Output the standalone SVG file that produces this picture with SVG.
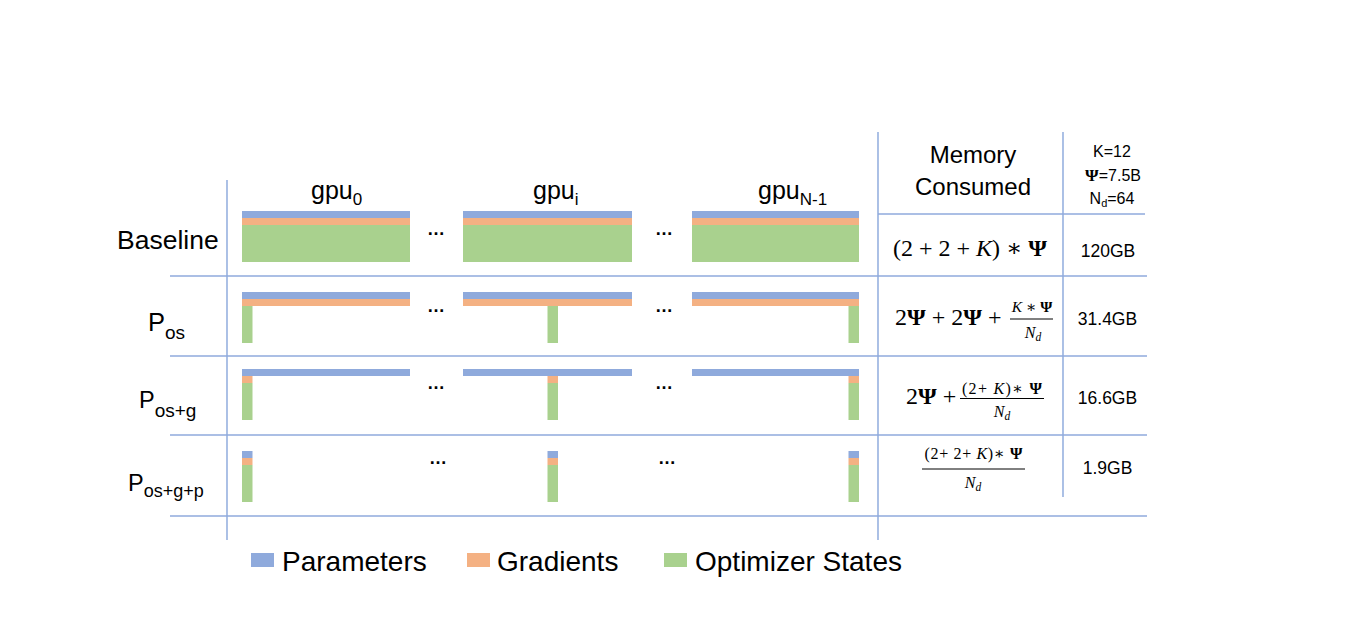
<svg xmlns="http://www.w3.org/2000/svg" width="1353" height="627" viewBox="0 0 1353 627">
<style>
.bg{fill:#ffffff}
.grid{stroke:#8FAADC;stroke-width:1.3;fill:none}
.vgrid{stroke:#7F9FD8;stroke-width:1.3;fill:none}
.p{fill:#8FAADC}
.g{fill:#F4B183}
.o{fill:#A9D18E}
.sans{font-family:"Liberation Sans",Arial,sans-serif;fill:#000}
.math{font-family:"Liberation Serif","DejaVu Serif",serif;fill:#000}
.psi{font-weight:bold}
.it{font-style:italic}
.dots{font-family:"Liberation Sans",Arial,sans-serif;font-size:18px;font-weight:bold;text-anchor:middle;fill:#000}
.frac{stroke:#000;stroke-width:1}
</style>
<rect class="bg" x="0" y="0" width="1353" height="627"/>

<g id="grid">
  <line class="vgrid" x1="227" y1="180" x2="227" y2="540"/>
  <line class="vgrid" x1="878" y1="132" x2="878" y2="540"/>
  <line class="vgrid" x1="1063" y1="132" x2="1063" y2="497"/>
  <line class="grid" x1="878" y1="214" x2="1145" y2="214"/>
  <line class="grid" x1="170" y1="276" x2="1147" y2="276"/>
  <line class="grid" x1="170" y1="356" x2="1147" y2="356"/>
  <line class="grid" x1="170" y1="435" x2="1147" y2="435"/>
  <line class="grid" x1="170" y1="516" x2="1147" y2="516"/>
</g>

<g id="header">
  <text class="sans" x="311" y="199" font-size="25">gpu<tspan font-size="17" dy="6">0</tspan></text>
  <text class="sans" x="533" y="199" font-size="25">gpu<tspan font-size="17" dy="6">i</tspan></text>
  <text class="sans" x="758" y="199" font-size="25">gpu<tspan font-size="17" dy="6">N-1</tspan></text>
  <text class="sans" x="973" y="163" font-size="24" text-anchor="middle">Memory</text>
  <text class="sans" x="973" y="195" font-size="24" text-anchor="middle">Consumed</text>
  <text class="sans" x="1112" y="157" font-size="16" text-anchor="middle">K=12</text>
  <text class="sans" x="1113" y="181" font-size="16" text-anchor="middle"><tspan class="math psi" font-size="17.5">Ψ</tspan>=7.5B</text>
  <text class="sans" x="1112" y="204" font-size="16" text-anchor="middle">N<tspan font-size="11" dy="3">d</tspan><tspan dy="-3">=64</tspan></text>
</g>

<g id="row-baseline">
  <text class="sans" x="117" y="249" font-size="26.5">Baseline</text>
  <rect class="p" x="242" y="211" width="168" height="7"/>
  <rect class="g" x="242" y="218" width="168" height="7"/>
  <rect class="o" x="242" y="225" width="168" height="37"/>
  <rect class="p" x="463" y="211" width="169" height="7"/>
  <rect class="g" x="463" y="218" width="169" height="7"/>
  <rect class="o" x="463" y="225" width="169" height="37"/>
  <rect class="p" x="692" y="211" width="167" height="7"/>
  <rect class="g" x="692" y="218" width="167" height="7"/>
  <rect class="o" x="692" y="225" width="167" height="37"/>
  <text class="dots" x="436" y="235">…</text>
  <text class="dots" x="664" y="235">…</text>
  <text class="math" x="970" y="256" font-size="24" text-anchor="middle">(2 + 2 + <tspan class="it">K</tspan>) ∗ <tspan class="psi">Ψ</tspan></text>
  <text class="sans" x="1108" y="257" font-size="17.5" text-anchor="middle">120GB</text>
</g>

<g id="row-pos">
  <text class="sans" x="148" y="331" font-size="25.5">P<tspan font-size="19" dy="8">os</tspan></text>
  <rect class="p" x="242" y="292" width="168" height="7"/>
  <rect class="g" x="242" y="299" width="168" height="7"/>
  <rect class="o" x="242" y="306" width="10.5" height="37"/>
  <rect class="p" x="463" y="292" width="169" height="7"/>
  <rect class="g" x="463" y="299" width="169" height="7"/>
  <rect class="o" x="547.5" y="306" width="10.5" height="37"/>
  <rect class="p" x="692" y="292" width="167" height="7"/>
  <rect class="g" x="692" y="299" width="167" height="7"/>
  <rect class="o" x="848.5" y="306" width="10.5" height="37"/>
  <text class="dots" x="436" y="312">…</text>
  <text class="dots" x="664" y="312">…</text>
  <text class="math" x="895" y="325" font-size="24">2<tspan class="psi">Ψ</tspan> + 2<tspan class="psi">Ψ</tspan> +</text>
  <text class="math" x="1032" y="311.5" font-size="15.5" text-anchor="middle"><tspan class="it">K</tspan> ∗ <tspan class="psi">Ψ</tspan></text>
  <line class="frac" x1="1010" y1="319" x2="1053" y2="319"/>
  <text class="math it" x="1033" y="338" font-size="16" text-anchor="middle">N<tspan font-size="11.5" dy="3">d</tspan></text>
  <text class="sans" x="1107.5" y="325" font-size="17.5" text-anchor="middle">31.4GB</text>
</g>

<g id="row-posg">
  <text class="sans" x="139" y="408" font-size="23.5">P<tspan font-size="19" dy="9">os+g</tspan></text>
  <rect class="p" x="242" y="369" width="168" height="7"/>
  <rect class="g" x="242" y="376" width="10.5" height="7"/>
  <rect class="o" x="242" y="383" width="10.5" height="37"/>
  <rect class="p" x="463" y="369" width="169" height="7"/>
  <rect class="g" x="547.5" y="376" width="10.5" height="7"/>
  <rect class="o" x="547.5" y="383" width="10.5" height="37"/>
  <rect class="p" x="692" y="369" width="167" height="7"/>
  <rect class="g" x="848.5" y="376" width="10.5" height="7"/>
  <rect class="o" x="848.5" y="383" width="10.5" height="37"/>
  <text class="dots" x="436" y="389">…</text>
  <text class="dots" x="664" y="389">…</text>
  <text class="math" x="906" y="404" font-size="24">2<tspan class="psi">Ψ</tspan> +</text>
  <text class="math" x="1002" y="394" font-size="16" text-anchor="middle" textLength="80" lengthAdjust="spacing">(2+ <tspan class="it">K</tspan>)∗ <tspan class="psi">Ψ</tspan></text>
  <line class="frac" x1="960" y1="398.5" x2="1044" y2="398.5"/>
  <text class="math it" x="1002" y="417" font-size="16" text-anchor="middle">N<tspan font-size="11.5" dy="3">d</tspan></text>
  <text class="sans" x="1107.5" y="404" font-size="17.5" text-anchor="middle">16.6GB</text>
</g>

<g id="row-posgp">
  <text class="sans" x="128" y="491" font-size="23.5">P<tspan font-size="18" dy="6">os+g+p</tspan></text>
  <rect class="p" x="242" y="451" width="10.5" height="7"/>
  <rect class="g" x="242" y="458" width="10.5" height="7"/>
  <rect class="o" x="242" y="465" width="10.5" height="37"/>
  <rect class="p" x="547.5" y="451" width="10.5" height="7"/>
  <rect class="g" x="547.5" y="458" width="10.5" height="7"/>
  <rect class="o" x="547.5" y="465" width="10.5" height="37"/>
  <rect class="p" x="848.5" y="451" width="10.5" height="7"/>
  <rect class="g" x="848.5" y="458" width="10.5" height="7"/>
  <rect class="o" x="848.5" y="465" width="10.5" height="37"/>
  <text class="dots" x="438" y="464">…</text>
  <text class="dots" x="667" y="464">…</text>
  <text class="math" x="973.5" y="459" font-size="16" text-anchor="middle" textLength="98" lengthAdjust="spacing">(2+ 2+ <tspan class="it">K</tspan>)∗ <tspan class="psi">Ψ</tspan></text>
  <line class="frac" x1="922" y1="469" x2="1025" y2="469"/>
  <text class="math it" x="973" y="488" font-size="16" text-anchor="middle">N<tspan font-size="11.5" dy="3">d</tspan></text>
  <text class="sans" x="1107.5" y="474" font-size="17.5" text-anchor="middle">1.9GB</text>
</g>

<g id="legend">
  <rect class="p" x="251" y="553" width="23" height="14"/>
  <text class="sans" x="282" y="571" font-size="28">Parameters</text>
  <rect class="g" x="467" y="553" width="23" height="14"/>
  <text class="sans" x="497" y="571" font-size="28">Gradients</text>
  <rect class="o" x="664" y="553" width="23" height="14"/>
  <text class="sans" x="695" y="571" font-size="28">Optimizer States</text>
</g>
</svg>
